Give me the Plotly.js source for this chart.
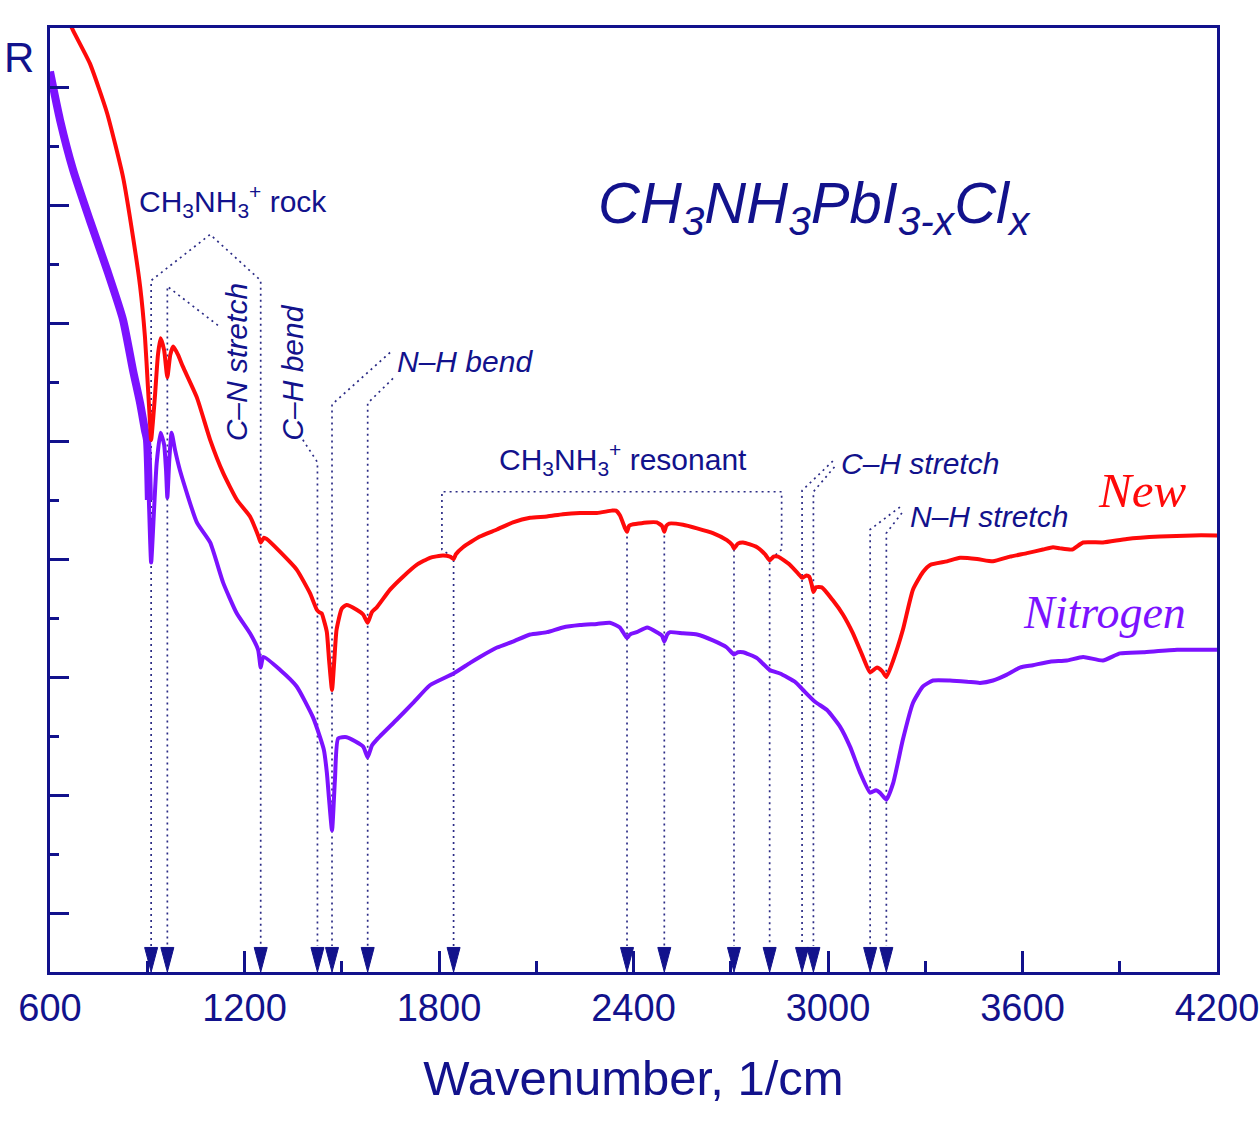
<!DOCTYPE html>
<html>
<head>
<meta charset="utf-8">
<script src="https://cdn.plot.ly/plotly-3.0.1.min.js"></script>
<style>
  html, body { margin: 0; padding: 0; background: #ffffff; }
  #chart { width: 1260px; height: 1122px; }
</style>
</head>
<body>
<div id="chart"></div>
<script>
// FTIR reflectance of CH3NH3PbI3-xClx films: fresh ("New") vs. kept under nitrogen

// Fresh film
const newWavenumber = [
  600, 631, 671, 723, 776, 825, 856, 878, 893, 902,
  908, 912, 918, 924, 933, 941, 952, 962, 971, 980,
  995, 1010, 1053, 1094, 1134, 1177, 1217, 1242, 1250, 1260,
  1268, 1310, 1361, 1402, 1423, 1430, 1438, 1445, 1454, 1461,
  1470, 1477, 1484, 1500, 1515, 1546, 1566, 1580, 1593, 1608,
  1649, 1689, 1731, 1772, 1812, 1834, 1845, 1852, 1874, 1926,
  1979, 2028, 2081, 2133, 2182, 2235, 2287, 2333, 2346, 2358,
  2374, 2380, 2386, 2392, 2442, 2472, 2488, 2495, 2501, 2510,
  2553, 2596, 2645, 2688, 2704, 2710, 2722, 2738, 2781, 2806,
  2820, 2832, 2846, 2883, 2910, 2920, 2933, 2942, 2950, 2955,
  2963, 2981, 3015, 3046, 3077, 3108, 3130, 3151, 3167, 3180,
  3201, 3231, 3262, 3293, 3315, 3367, 3407, 3460, 3509, 3561,
  3614, 3663, 3694, 3716, 3753, 3787, 3848, 3922, 4024, 4126,
  4200
];
const newReflectance = [
  8.45, 8.22, 7.98, 7.70, 7.28, 6.74, 6.23, 5.81, 5.38, 4.96,
  4.68, 4.51, 4.68, 4.89, 5.23, 5.37, 5.27, 5.04, 5.23, 5.30,
  5.23, 5.13, 4.87, 4.51, 4.23, 4.00, 3.86, 3.70, 3.64, 3.68,
  3.67, 3.56, 3.41, 3.21, 3.07, 3.05, 3.04, 2.98, 2.88, 2.64,
  2.39, 2.64, 2.90, 3.08, 3.11, 3.07, 3.03, 2.96, 3.05, 3.09,
  3.24, 3.35, 3.45, 3.51, 3.53, 3.52, 3.50, 3.54, 3.60, 3.69,
  3.75, 3.81, 3.85, 3.86, 3.88, 3.89, 3.89, 3.91, 3.91, 3.87,
  3.76, 3.73, 3.78, 3.79, 3.81, 3.81, 3.78, 3.73, 3.78, 3.80,
  3.79, 3.76, 3.72, 3.66, 3.62, 3.59, 3.63, 3.64, 3.60, 3.54,
  3.49, 3.52, 3.52, 3.45, 3.37, 3.34, 3.36, 3.35, 3.28, 3.22,
  3.26, 3.26, 3.15, 3.03, 2.87, 2.67, 2.54, 2.58, 2.55, 2.50,
  2.64, 2.90, 3.24, 3.39, 3.45, 3.48, 3.51, 3.50, 3.48, 3.52,
  3.55, 3.58, 3.60, 3.59, 3.58, 3.64, 3.64, 3.67, 3.69, 3.70,
  3.70
];

// Film kept under nitrogen
const nitrogenWavenumber = [
  600, 631, 671, 723, 776, 825, 856, 878, 893, 899,
  905, 912, 921, 929, 941, 952, 958, 962, 968, 975,
  986, 1001, 1053, 1094, 1134, 1176, 1217, 1242, 1250, 1258,
  1310, 1361, 1411, 1433, 1445, 1454, 1461, 1470, 1479, 1489,
  1515, 1566, 1580, 1593, 1608, 1670, 1720, 1772, 1845, 1896,
  1926, 1979, 2028, 2081, 2133, 2182, 2235, 2287, 2327, 2358,
  2380, 2389, 2410, 2442, 2472, 2488, 2495, 2504, 2513, 2553,
  2596, 2645, 2688, 2710, 2722, 2738, 2781, 2820, 2852, 2898,
  2923, 2960, 2997, 3037, 3068, 3099, 3130, 3148, 3160, 3180,
  3201, 3231, 3262, 3293, 3324, 3376, 3429, 3469, 3509, 3552,
  3592, 3632, 3685, 3737, 3787, 3848, 3901, 3972, 4077, 4200
];
const nitrogenReflectance = [
  7.63, 7.22, 6.80, 6.37, 5.95, 5.53, 5.10, 4.82, 4.59, 4.51,
  4.00, 3.47, 3.92, 4.31, 4.57, 4.47, 4.25, 4.02, 4.34, 4.57,
  4.42, 4.25, 3.81, 3.64, 3.30, 3.04, 2.87, 2.73, 2.58, 2.67,
  2.56, 2.42, 2.16, 1.99, 1.88, 1.69, 1.46, 1.20, 1.63, 1.98,
  1.99, 1.91, 1.82, 1.92, 1.97, 2.14, 2.28, 2.43, 2.53, 2.62,
  2.67, 2.75, 2.80, 2.86, 2.88, 2.92, 2.94, 2.95, 2.96, 2.92,
  2.83, 2.86, 2.88, 2.92, 2.88, 2.85, 2.80, 2.86, 2.88, 2.87,
  2.86, 2.81, 2.75, 2.69, 2.71, 2.71, 2.66, 2.56, 2.53, 2.46,
  2.39, 2.29, 2.22, 2.08, 1.91, 1.69, 1.52, 1.54, 1.52, 1.46,
  1.60, 1.97, 2.28, 2.42, 2.47, 2.47, 2.46, 2.45, 2.47, 2.52,
  2.58, 2.60, 2.63, 2.64, 2.67, 2.64, 2.70, 2.71, 2.73, 2.73
];

// Assigned vibrational bands, 1/cm
const bandPositions = [912, 962, 1250, 1425, 1470, 1580, 1845, 2380, 2495, 2710, 2820, 2920, 2955, 3130, 3180];

// Axis ticks
const xTickValues = [600, 1200, 1800, 2400, 3000, 3600, 4200];
const xTickLabels = ['600', '1200', '1800', '2400', '3000', '3600', '4200'];

const NAVY = '#12128c';
const DOT_COLOR = '#2c2c86';
const RED = '#ff0a0a';
const VIOLET = '#7c12ff';
const SANS = 'Liberation Sans, Arial, Helvetica, sans-serif';
const SERIF = 'Liberation Serif, Times New Roman, serif';

// Interference fringes make the low-wavenumber part of the nitrogen trace a broad band
const fringeX = [], fringeY = [];
nitrogenWavenumber.forEach((w, i) => {
  if (w <= 905) { fringeX.push(w); fringeY.push(nitrogenReflectance[i]); }
});

const traces = [
  {
    x: fringeX, y: fringeY, type: 'scatter', mode: 'lines',
    line: { color: VIOLET, width: 8, shape: 'spline', smoothing: 0.6 }, hoverinfo: 'skip'
  },
  {
    x: nitrogenWavenumber, y: nitrogenReflectance, type: 'scatter', mode: 'lines',
    name: 'Nitrogen', line: { color: VIOLET, width: 4, shape: 'spline', smoothing: 0.5 }
  },
  {
    x: newWavenumber, y: newReflectance, type: 'scatter', mode: 'lines',
    name: 'New', line: { color: RED, width: 4, shape: 'spline', smoothing: 0.5 }
  }
];

// Leader lines from each label down to its band marker
const arrowTop = 0.22;
const leaders = [
  // CH3NH3+ rock: roof over 912 and 1250
  [[912, arrowTop], [912, 5.86], [1094, 6.25], [1250, 5.86], [1250, arrowTop]],
  // C–N stretch
  [[1118, 5.48], [962, 5.81], [962, arrowTop]],
  // C–H bend
  [[1380, 4.51], [1425, 4.32], [1425, arrowTop]],
  // N–H bend
  [[1649, 5.25], [1470, 4.81], [1470, arrowTop]],
  [[1658, 5.03], [1580, 4.82], [1580, arrowTop]],
  // CH3NH3+ resonant bracket
  [[1845, arrowTop], [1845, 3.51], [1809, 3.58], [1809, 4.07], [2857, 4.07], [2857, 3.58], [2820, 3.49], [2820, arrowTop]],
  [[2380, 3.69], [2380, arrowTop]],
  [[2495, 3.70], [2495, arrowTop]],
  [[2710, 3.58], [2710, arrowTop]],
  // C–H stretch
  [[3015, 4.33], [2920, 4.08], [2920, arrowTop]],
  [[3020, 4.28], [2955, 4.07], [2955, arrowTop]],
  // N–H stretch
  [[3222, 3.94], [3130, 3.75], [3130, arrowTop]],
  [[3228, 3.89], [3180, 3.72], [3180, arrowTop]]
];

const shapes = leaders.map(pts => ({
  type: 'path', xref: 'x', yref: 'y', layer: 'below',
  path: pts.map((p, i) => (i ? 'L' : 'M') + p[0] + ',' + p[1]).join(' '),
  line: { color: DOT_COLOR, width: 1.7, dash: '2px,4px' }
}));

// Band markers: narrow downward triangles resting on the x axis
bandPositions.forEach(b => {
  shapes.push({
    type: 'path', xref: 'x', yref: 'paper',
    xsizemode: 'pixel', xanchor: b,
    path: 'M-6.5,0.026 L6.5,0.026 L0,0 Z',
    fillcolor: NAVY, line: { color: NAVY, width: 1 }, layer: 'above'
  });
});

const labelFont = { family: SANS, size: 30, color: NAVY };
const italicFont = { family: SANS, size: 30, color: NAVY, style: 'italic' };

const annotations = [
  { x: 1165, y: 6.53, text: 'CH<sub>3</sub>NH<sub>3</sub><sup>+</sup> rock', font: labelFont },
  { x: 1178, y: 5.17, text: 'C–N stretch', font: italicFont, textangle: -90 },
  { x: 1347, y: 5.08, text: 'C–H bend', font: italicFont, textangle: -90 },
  { x: 1880, y: 5.17, text: 'N–H bend', font: italicFont },
  { x: 2368, y: 4.35, text: 'CH<sub>3</sub>NH<sub>3</sub><sup>+</sup> resonant', font: labelFont },
  { x: 3284, y: 4.31, text: 'C–H stretch', font: italicFont },
  { x: 3497, y: 3.86, text: 'N–H stretch', font: italicFont },
  { x: 3969, y: 4.08, text: 'New', font: { family: SERIF, size: 49, color: RED, style: 'italic' } },
  { x: 3854, y: 3.05, text: 'Nitrogen', font: { family: SERIF, size: 46, color: VIOLET, style: 'italic' } },
  { x: 2957, y: 6.48, text: 'CH<sub>3</sub>NH<sub>3</sub>PbI<sub>3-x</sub>Cl<sub>x</sub>',
    font: { family: SANS, size: 58, color: NAVY, style: 'italic' } }
].map(a => Object.assign({ xref: 'x', yref: 'y', showarrow: false, xanchor: 'center', yanchor: 'middle' }, a));

// Ordinate label sits at the top-left corner
annotations.push({
  xref: 'paper', yref: 'paper', x: -0.0415, y: 0.969, xanchor: 'left', yanchor: 'middle',
  text: 'R', showarrow: false, font: { family: SANS, size: 42, color: NAVY }
});

const layout = {
  width: 1260, height: 1122,
  margin: { l: 50, r: 43, t: 28, b: 150 },
  paper_bgcolor: '#ffffff', plot_bgcolor: '#ffffff',
  showlegend: false,
  font: { family: SANS, color: NAVY },
  xaxis: {
    range: [600, 4200], tickmode: 'array', tickvals: xTickValues, ticktext: xTickLabels,
    ticks: 'inside', ticklen: 21, tickwidth: 3, tickcolor: NAVY,
    minor: { dtick: 300, tick0: 600, ticks: 'inside', ticklen: 11, tickwidth: 3, tickcolor: NAVY },
    showline: true, mirror: true, linewidth: 3, linecolor: NAVY,
    showgrid: false, zeroline: false, automargin: false,
    tickfont: { family: SANS, size: 38, color: NAVY },
    title: { text: 'Wavenumber, 1/cm', font: { family: SANS, size: 49, color: NAVY }, standoff: 34 }
  },
  yaxis: {
    range: [0, 8], tick0: 0.5, dtick: 1, showticklabels: false,
    ticks: 'inside', ticklen: 19, tickwidth: 3, tickcolor: NAVY,
    minor: { dtick: 0.5, tick0: 0, ticks: 'inside', ticklen: 9, tickwidth: 3, tickcolor: NAVY },
    showline: true, mirror: true, linewidth: 3, linecolor: NAVY,
    showgrid: false, zeroline: false, automargin: false
  },
  shapes: shapes,
  annotations: annotations
};

Plotly.newPlot('chart', traces, layout, { staticPlot: true, displayModeBar: false });
</script>
</body>
</html>
